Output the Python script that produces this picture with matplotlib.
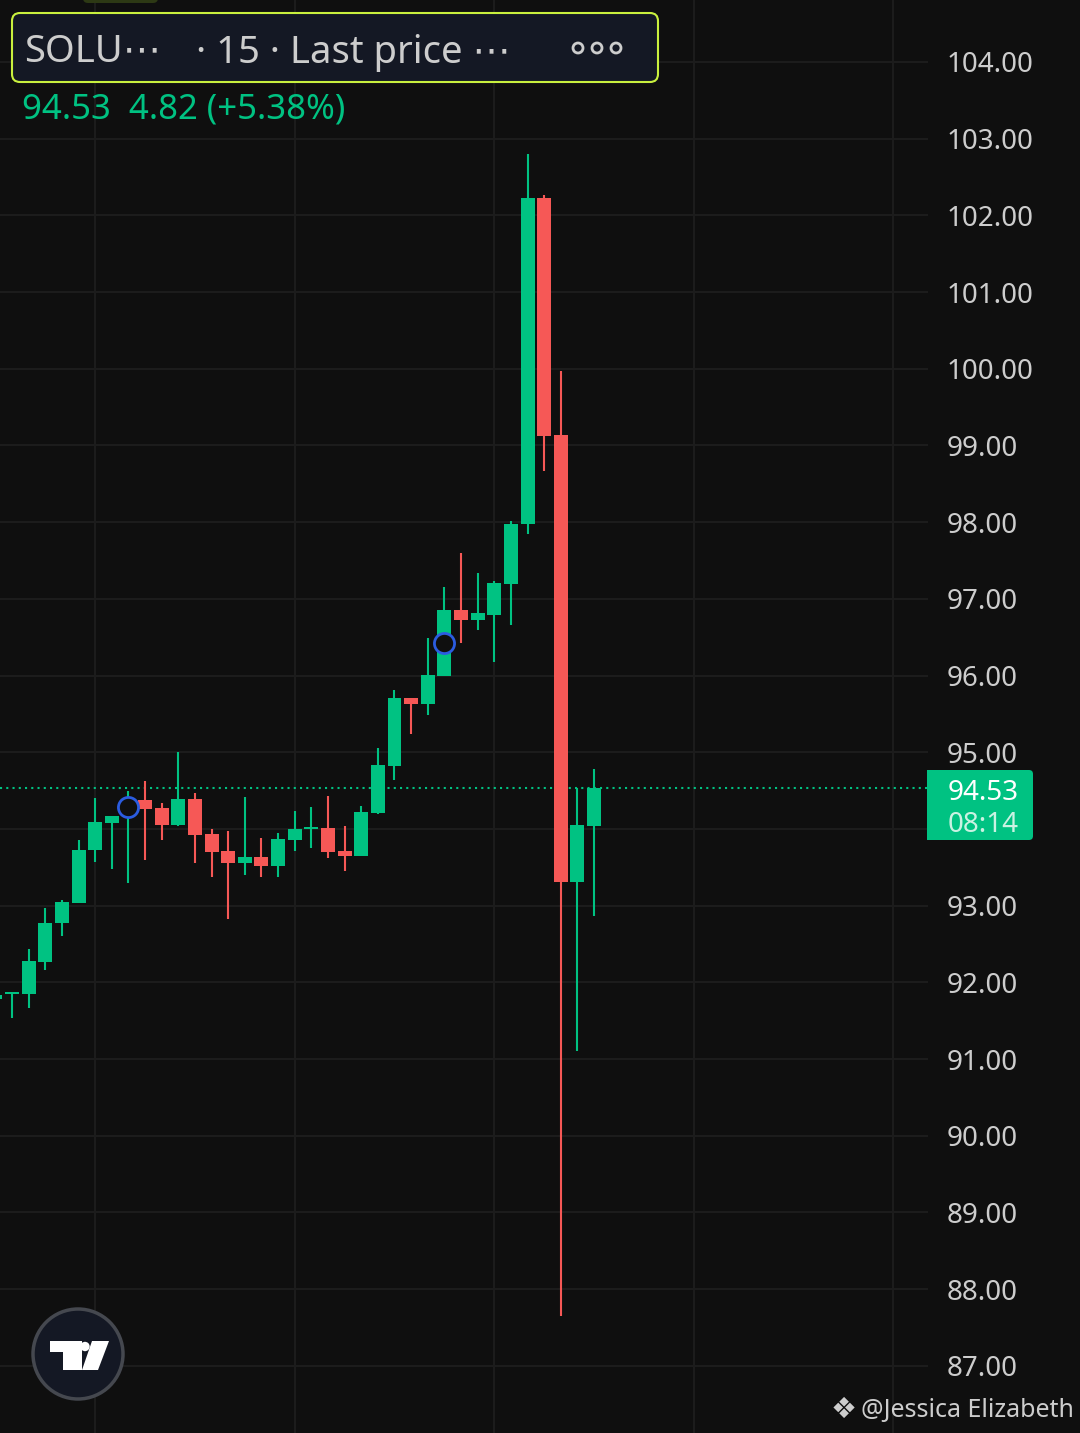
import matplotlib
matplotlib.use("Agg")
import matplotlib.pyplot as plt
from matplotlib.patches import FancyBboxPatch, Circle, Polygon
from matplotlib.transforms import IdentityTransform

plt.rcParams['font.family'] = ['Noto Sans', 'DejaVu Sans']

W, H = 1080, 1433

# 15 min candles, first one is cut by the left edge
opens = [91.78, 91.85, 91.85, 92.27, 92.77, 93.04, 93.72, 94.08, 94.17, 94.38,
         94.27, 94.05, 94.39, 93.93, 93.71, 93.56, 93.64, 93.52, 93.86, 94.00,
         94.01, 93.71, 93.65, 94.21, 94.82, 95.71, 95.63, 96.00, 96.86, 96.72,
         96.79, 97.20, 97.97, 102.23, 99.14, 93.31, 94.04]
highs = [91.83, 91.87, 92.44, 92.97, 93.07, 93.86, 94.40, 94.17, 94.50, 94.63,
         94.34, 95.00, 94.47, 94.00, 93.97, 94.42, 93.88, 93.95, 94.24, 94.29,
         94.43, 94.04, 94.30, 95.06, 95.81, 95.71, 96.49, 97.16, 97.60, 97.34,
         97.23, 98.02, 102.80, 102.27, 99.97, 94.54, 94.78]
lows = [91.78, 91.53, 91.66, 92.16, 92.60, 93.04, 93.57, 93.48, 93.30, 93.60,
        93.86, 94.04, 93.56, 93.37, 92.83, 93.40, 93.37, 93.37, 93.71, 93.75,
        93.62, 93.45, 93.65, 94.20, 94.64, 95.24, 95.49, 96.00, 96.43, 96.60,
        96.18, 96.66, 97.85, 98.67, 87.65, 91.10, 92.87]
closes = [91.83, 91.87, 92.28, 92.77, 93.05, 93.73, 94.09, 94.17, 94.28, 94.26,
          94.05, 94.39, 93.92, 93.70, 93.56, 93.64, 93.52, 93.87, 94.00, 94.03,
          93.70, 93.65, 94.22, 94.84, 95.71, 95.63, 96.01, 96.86, 96.72, 96.81,
          97.21, 97.98, 102.23, 99.12, 93.31, 94.05, 94.53]
first_idx = -1

price_ticks = list(range(87, 105))
hidden_ticks = [94]          # covered by the last price tag
session_idx = [5, 17, 29, 41, 53]
alert_idx = [7, 26]
alert_price = [94.29, 96.43]
last_price = 94.53
countdown = "08:14"

symbol = "SOLU\u22ef"
header_rest = "\u00b7 15 \u00b7 Last price \u22ef"
change_txt = "94.53  4.82 (+5.38%)"
credit = "@Jessica Elizabeth"

BG = '#0f0f0f'
GRID = '#1d1d1d'
UP = '#00c282'
DOWN = '#f65856'
TXT = '#cdcdcd'

fig = plt.figure(figsize=(W / 100, H / 100), dpi=100, facecolor=BG)
ax = fig.add_axes([0, 0, 928 / W, 1])
ax.set_facecolor(BG)

step = 16.63
ax.set_xlim(-12 / step, (928 - 12) / step)
ax.set_ylim(86.125, 104.808)

xs = [first_idx + i for i in range(len(opens))]
cols = [UP if c >= o else DOWN for o, c in zip(opens, closes)]
bottoms = [min(o, c) for o, c in zip(opens, closes)]
heights = [max(abs(c - o), 0.025) for o, c in zip(opens, closes)]

ax.vlines(xs, lows, highs, colors=cols, lw=1.5, zorder=3)
ax.bar(xs, heights, bottom=bottoms, width=0.84, color=cols, zorder=4)

ax.scatter(alert_idx, alert_price, s=210, facecolor=BG, edgecolor='#2b5ce0',
           linewidths=2, zorder=6)

ax.axhline(last_price, color=UP, lw=1.5, ls=(0, (1, 2)), zorder=2)

ax.set_yticks(price_ticks)
ax.set_yticklabels(["" if p in hidden_ticks else f"{p:.2f}" for p in price_ticks])
ax.set_xticks(session_idx)
ax.yaxis.tick_right()
ax.tick_params(axis='y', length=0, pad=13.5, labelsize=20, labelcolor=TXT)
ax.tick_params(axis='x', length=0, labelbottom=False)
ax.grid(color=GRID, lw=1.4)
ax.set_axisbelow(True)
for s in ax.spines.values():
    s.set_visible(False)

ident = IdentityTransform()


def px(x, y):
    return x, H - y


# header
fig.add_artist(FancyBboxPatch(px(83, 3), 75, 12, boxstyle="round,pad=0,rounding_size=5",
                              fc='#2d3914', ec='none', transform=ident))
fig.add_artist(FancyBboxPatch(px(12, 82), 646, 69, boxstyle="round,pad=0,rounding_size=8",
                              fc='#141824', ec='#c9f03e', lw=1.5, transform=ident))
fig.text(*px(24, 48), symbol, transform=ident, fontsize=27.5, color=TXT,
         va='center_baseline')
fig.text(*px(196, 48), header_rest, transform=ident, fontsize=27.5, color=TXT,
         va='center_baseline')
for cx in (578, 597, 616):
    fig.add_artist(Circle(px(cx, 48), 5, fc='none', ec=TXT, lw=2, transform=ident))
fig.text(*px(22, 106), change_txt, transform=ident, fontsize=25, color=UP,
         va='center_baseline')

# last price label
fig.add_artist(FancyBboxPatch(px(927, 840), 106, 70, boxstyle="round,pad=0,rounding_size=4",
                              fc=UP, ec='none', transform=ident))
fig.add_artist(FancyBboxPatch(px(927, 840), 10, 70, boxstyle="square,pad=0",
                              fc=UP, ec='none', transform=ident))
fig.text(*px(983, 790), f"{last_price:.2f}", transform=ident, fontsize=20, color='white',
         ha='center', va='center_baseline')
fig.text(*px(983, 822), countdown, transform=ident, fontsize=20, color='#c9f2e2',
         ha='center', va='center_baseline')

# tradingview badge
fig.add_artist(Circle(px(78, 1354), 45, fc='#141824', ec='#45484f', lw=2.5, transform=ident))
t_shape = [(50, 1341), (82, 1341), (82, 1370), (63, 1370), (63, 1352), (50, 1352)]
fig.add_artist(Polygon([px(*p) for p in t_shape], fc='white', ec='none', transform=ident))
fig.add_artist(Circle(px(85, 1346.5), 4.7, fc='white', ec='none', transform=ident))
slash = [(92, 1341), (109, 1341), (98, 1370), (82, 1370)]
fig.add_artist(Polygon([px(*p) for p in slash], fc='white', ec='none', transform=ident))

# credit
fig.text(*px(844, 1407), "\u2756", transform=ident, fontsize=21, color=TXT,
         ha='center', va='center_baseline', family=['DejaVu Sans'])
fig.text(*px(861, 1407), credit, transform=ident, fontsize=18, color=TXT,
         va='center_baseline')

fig.savefig("out.png", dpi=100, facecolor=BG)
